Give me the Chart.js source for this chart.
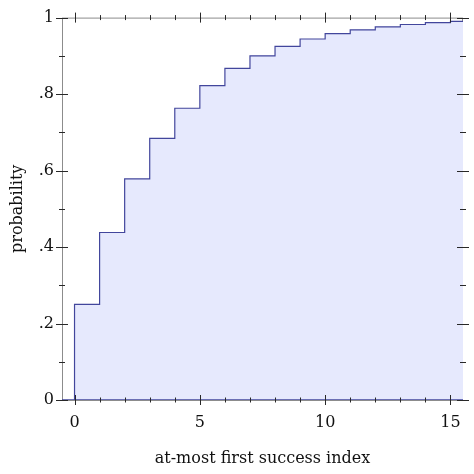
<!DOCTYPE html>
<html>
<head>
<meta charset="utf-8">
<script src="https://cdn.jsdelivr.net/npm/chart.js@4"></script>
<style>
	html, body {margin: 0; padding: 0; background: #ffffff;}
	#cdfChart {display: block;}
</style>
</head>
<body>
<canvas id="cdfChart" width="474" height="474"></canvas>
<script>

//first success index (x) and cumulative probability
const successIdx = [0, 1, 2, 3, 4, 5, 6, 7, 8, 9, 10, 11, 12, 13, 14, 15];
const cumProb = [0.25, 0.438, 0.578, 0.684, 0.763, 0.822, 0.867, 0.900,
                 0.925, 0.944, 0.958, 0.968, 0.976, 0.982, 0.987, 0.990];

const xTickVals = [0, 5, 10, 15];
const yTickVals = [0, 0.2, 0.4, 0.6, 0.8, 1];

const xMin = -0.5;
const xMax = 15.5;

const lineColour = "rgb(66,70,156)";
const fillColour = "rgb(230,233,253)";
const axisColour = "rgb(140,140,140)";
const tickColour = "rgb(40,40,40)";

const serif = "'DejaVu Serif', 'Liberation Serif', serif";

//build the step points, start at 0 and carry the last value to the right edge
var stepPts = [{x: successIdx[0], y: 0}];
for(var i = 0; i < successIdx.length; i++)
	stepPts.push({x: successIdx[i], y: cumProb[i]});
stepPts.push({x: xMax, y: cumProb[cumProb.length - 1]});

function yLabel(v){ //racket style: 0, .2, .4 ... 1
	if(v == 0) return "0";
	if(v == 1) return "1";
	return String(Math.round(v * 10) / 10).replace(/^0/, "");
}//end yLabel

//frame all four sides, then ticks that cross the axis lines
const framePlugin = {
	id: "frame",
	beforeDatasetsDraw(chart){
		const a = chart.chartArea;
		const ctx = chart.ctx;
		ctx.save();
		ctx.strokeStyle = axisColour;
		ctx.lineWidth = 1;
		ctx.strokeRect(a.left + 0.5, a.top + 0.5, a.right - a.left - 1, a.bottom - a.top);
		ctx.restore();
	},//end beforeDatasetsDraw
	afterDatasetsDraw(chart){
		const a = chart.chartArea;
		const ctx = chart.ctx;
		const xs = chart.scales.x;
		const ys = chart.scales.y;
		ctx.save();
		ctx.strokeStyle = tickColour;
		ctx.lineWidth = 1;
		ctx.beginPath();
		for(var v = 0; v <= 15; v++){
			var len = (v % 5 == 0) ? 5 : 2.5;
			var px = Math.round(xs.getPixelForValue(v)) + 0.5;
			ctx.moveTo(px, a.top - len); ctx.lineTo(px, a.top + len);
			ctx.moveTo(px, a.bottom - len); ctx.lineTo(px, a.bottom + len);
		}//end for
		for(var k = 0; k <= 10; k++){
			var len2 = (k % 2 == 0) ? 6 : 3;
			var py = Math.round(ys.getPixelForValue(k / 10)) + 0.5;
			ctx.moveTo(a.left - len2, py); ctx.lineTo(a.left + len2, py);
			ctx.moveTo(a.right - len2, py); ctx.lineTo(a.right + len2, py);
		}//end for
		ctx.stroke();
		ctx.restore();
	}//end afterDatasetsDraw
};//end framePlugin

const cdfData = {
	datasets: [
	{
		data: stepPts,
		stepped: "before", //horizontal first, then up
		borderColor: lineColour,
		borderWidth: 1.2,
		backgroundColor: fillColour,
		fill: "origin",
		pointRadius: 0,
		order: 2
	},
	{ //dark line along zero, drawn over the fill
		data: [{x: xMin, y: 0}, {x: xMax, y: 0}],
		borderColor: lineColour,
		borderWidth: 1.5,
		pointRadius: 0,
		fill: false,
		order: 1
	}] //end datasets
};

const cdfOptions = {
	responsive: false,
	animation: false,
	devicePixelRatio: 1,
	layout: {padding: {top: 15, right: 11, left: 0, bottom: 0}},
	plugins: {legend: {display: false}, tooltip: {enabled: false}},
	scales: {
		x: {
			type: "linear",
			min: xMin,
			max: xMax,
			afterBuildTicks: function(s){ s.ticks = xTickVals.map(v => ({value: v})); },
			afterFit: function(s){ s.height = 74; },
			grid: {display: false, drawTicks: false},
			border: {display: false},
			ticks: {color: "#111", font: {family: serif, size: 16}, padding: 13,
			        maxRotation: 0, autoSkip: false},
			title: {display: true, text: "at-most first success index", color: "#111",
			        font: {family: serif, size: 16}, padding: {top: 0, bottom: 6}}
		},
		y: {
			type: "linear",
			min: 0,
			max: 1,
			afterBuildTicks: function(s){ s.ticks = yTickVals.map(v => ({value: v})); },
			afterFit: function(s){ s.width = 62; },
			grid: {display: false, drawTicks: false},
			border: {display: false},
			ticks: {color: "#111", font: {family: serif, size: 16}, padding: 8,
			        callback: function(v){ return yLabel(v); }},
			title: {display: true, text: "probability", color: "#111",
			        font: {family: serif, size: 16}, padding: {top: 8, bottom: 8}}
		}
	}//end scales
};

new Chart("cdfChart", {
	type: "line",
	data: cdfData,
	options: cdfOptions,
	plugins: [framePlugin]
});//end chart

</script>
</body>
</html>
